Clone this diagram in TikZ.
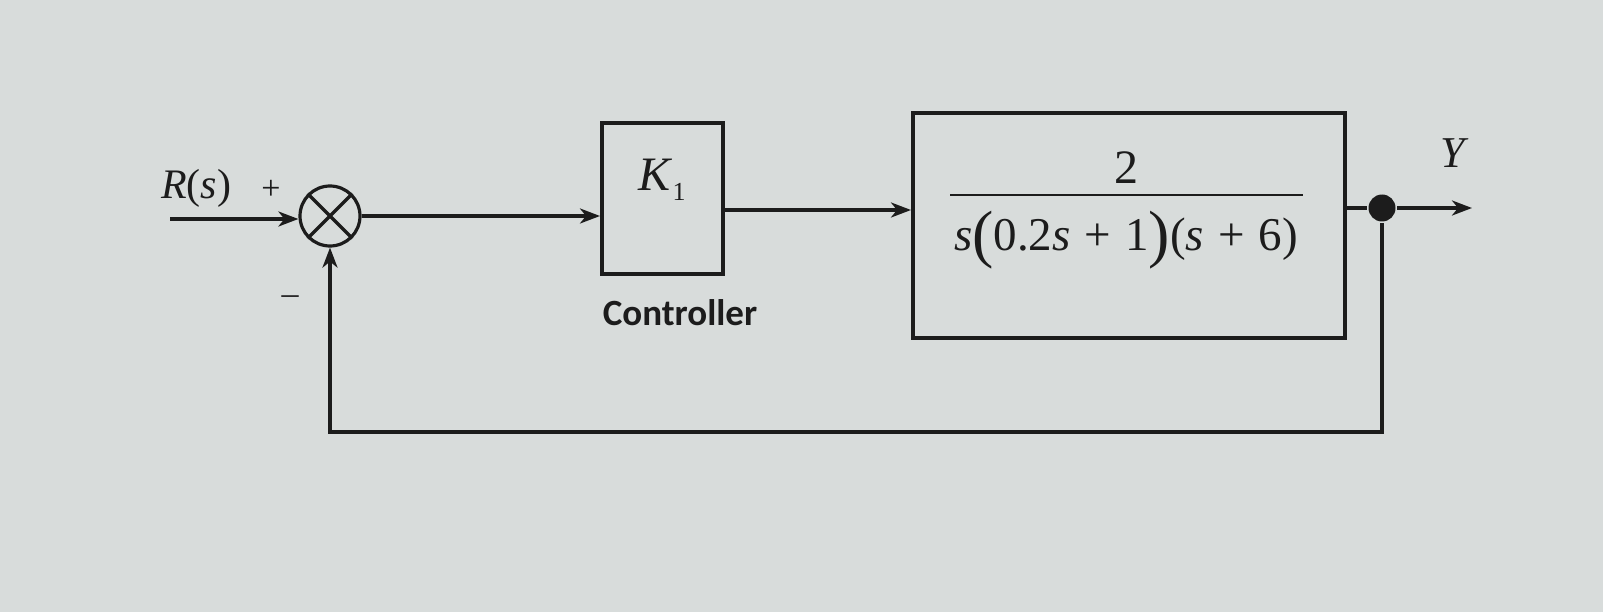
\documentclass[tikz,border=0pt]{standalone}
\usepackage{fontspec}
\setmainfont{Liberation Serif}
\newfontfamily\ctrlfont{Carlito}
\usetikzlibrary{arrows.meta}
\definecolor{bg}{RGB}{216,220,219}
\definecolor{ink}{RGB}{28,28,28}
\newcommand{\fs}[1]{\fontsize{#1}{#1}\selectfont}
\newcommand{\bigp}[1]{\raisebox{-5pt}{\fs{64}#1}}
\begin{document}
\begin{tikzpicture}[x=1pt,y=-1pt,
  line width=3.2pt, draw=ink, text=ink,
  arr/.style={-{Stealth[length=20pt,width=15pt,inset=6pt]}},
  blk/.style={draw, line width=4pt, inner sep=0pt},
  lbl/.style={inner sep=0pt}]
\fill[bg] (0,0) rectangle (1603,612);
\useasboundingbox (0,0) rectangle (1603,612);
% blocks
\node[circle, draw, minimum size=60pt, inner sep=0pt] (sum) at (330,216) {};
\draw (sum.north west) -- (sum.south east) (sum.north east) -- (sum.south west);
\node[blk, minimum width=121pt, minimum height=151pt] (ctrl) at (662.5,198.5) {};
\node[blk, minimum width=432pt, minimum height=225pt] (plant) at (1129,225.5) {};
\node[circle, fill=ink, minimum size=27pt, inner sep=0pt] (dot) at (1382,208) {};
% coordinates
\coordinate (in) at (170,219);
\coordinate (mid) at (0,210);
\coordinate (yend) at (1472,208);
\coordinate (fb) at (0,432);
% connectors
\draw[arr] (in) -- (sum.west |- in);
\draw[arr] (sum.east) -- (sum.east -| ctrl.west);
\draw[arr] (ctrl.east |- mid) -- (plant.west |- mid);
\draw (plant.east |- dot) -- (dot);
\draw[arr] (dot) -- (yend);
\draw[arr] (dot) -- (dot |- fb) -| (sum.south);
% labels
\node[lbl, font=\fs{42}] (rs) at (196,188) {\textit{R}(\textit{s})};
\node[lbl, font=\fs{34}] (plus) at (271,190) {+};
\node[lbl, font=\fs{34}] (minus) at (290,300) {–};
\node[lbl, font=\fs{48}] (k) at (662,180) {\textit{K}\raisebox{-10pt}{\fs{26}1}};
\node[lbl, font=\fs{37}\ctrlfont\bfseries] (ctrltxt) at (680,313) {Controller};
\node[lbl, font=\fs{48}] (num) at (1126,168) {2};
\draw[line width=2.2pt] (950,195) -- (1303,195);
\node[lbl, font=\fs{47}] (den) at (1126,240) {\textit{s}\bigp{(}0.2\textit{s}\hspace{0.3em}+\hspace{0.3em}1\bigp{)}(\textit{s}\hspace{0.3em}+\hspace{0.3em}6)};
\node[lbl, font=\fs{44}] (y) at (1455,153) {\textit{Y}};
\end{tikzpicture}
\end{document}
